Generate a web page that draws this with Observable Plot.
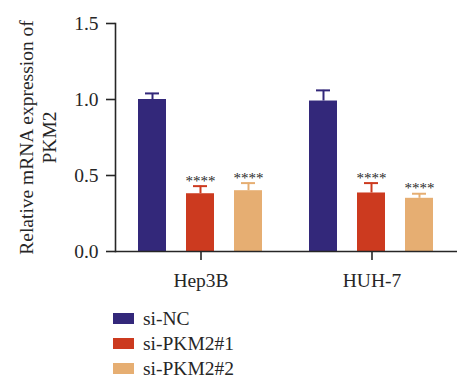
<!DOCTYPE html>
<html>
<head>
<meta charset="utf-8">
<script src="https://cdn.jsdelivr.net/npm/d3@7"></script>
<script src="https://cdn.jsdelivr.net/npm/@observablehq/plot@0.6"></script>
<style>
  body { margin: 0; background: #fff; font-family: "Liberation Serif", serif; }
  #chart svg { display: block; }
  .legend { margin-left: 113px; margin-top: 6px; font: 19.5px "Liberation Serif", serif; color: #262626; }
  .legend .row { display: flex; align-items: center; height: 25px; }
  .legend .sw { width: 21px; height: 11px; margin-right: 9px; }
</style>
</head>
<body>
<div id="chart"></div>
<script>
const cellLines = ["Hep3B", "HUH-7"];
const seriesNames = ["si-NC", "si-PKM2#1", "si-PKM2#2"];
const seriesColors = ["#33287a", "#cc3a1f", "#e6ae72"];
const meanHep3B = [1.00, 0.38, 0.40];
const errHep3B = [0.04, 0.05, 0.05];
const meanHUH7 = [0.99, 0.385, 0.35];
const errHUH7 = [0.07, 0.065, 0.03];
const starLabels = ["", "****", "****"];
const yTicks = [0, 0.5, 1.0, 1.5];
const yLabel = ["Relative mRNA expression of\nPKM2"];

const means = [meanHep3B, meanHUH7];
const errs = [errHep3B, errHUH7];
const data = [];
cellLines.forEach((c, ci) => seriesNames.forEach((s, si) => {
  data.push({cell: c, series: s, mean: means[ci][si], top: means[ci][si] + errs[ci][si], star: starLabels[si]});
}));

const font = '"Liberation Serif", serif';
const ink = "#262626";
const chart = Plot.plot({
  width: 474,
  height: 300,
  marginLeft: 114,
  marginRight: 17,
  marginTop: 23,
  marginBottom: 49,
  style: {fontFamily: font, fontSize: "19.5px", color: ink, background: "#fff"},
  fx: {domain: cellLines, padding: 0, label: null, axis: null},
  x: {domain: seriesNames, paddingInner: 0.408, paddingOuter: 0.454, axis: null},
  y: {domain: [0, 1.5], label: null, axis: null},
  color: {domain: seriesNames, range: seriesColors},
  marks: [
    Plot.axisY({ticks: yTicks, tickFormat: d3.format(".1f"), tickSize: 9, tickPadding: 8, stroke: ink, strokeWidth: 1.6,
      label: null, fontSize: 19.5}),
    Plot.text(yLabel, {frameAnchor: "left", facet: "super", rotate: -90, textAnchor: "middle", lineAnchor: "middle",
      lineHeight: 1.18, dx: -78, fontSize: 19.5, fill: ink}),
    Plot.axisFx({anchor: "bottom", tickSize: 9, tickPadding: 13, stroke: ink, strokeWidth: 1.6, label: null, fontSize: 19.5}),
    Plot.ruleX(data, {fx: "cell", x: "series", y1: "mean", y2: "top", stroke: "series", strokeWidth: 2}),
    Plot.tickY(data, {fx: "cell", x: "series", y: "top", stroke: "series", strokeWidth: 2, insetLeft: 7, insetRight: 7}),
    Plot.barY(data, {fx: "cell", x: "series", y: "mean", fill: "series"}),
    Plot.text(data, {fx: "cell", x: "series", y: "top", text: "star", lineAnchor: "bottom", dy: -0.5, fontSize: 15, fill: "#2a2a2a"}),
    Plot.ruleY([0], {stroke: ink, strokeWidth: 1.6}),
    Plot.frame({anchor: "left", facet: "super", stroke: ink, strokeWidth: 1.6})
  ]
});
document.getElementById("chart").appendChild(chart);

const legend = document.createElement("div");
legend.className = "legend";
seriesNames.forEach((s, i) => {
  const row = document.createElement("div");
  row.className = "row";
  const sw = document.createElement("div");
  sw.className = "sw";
  sw.style.background = seriesColors[i];
  const t = document.createElement("span");
  t.textContent = s;
  row.appendChild(sw); row.appendChild(t);
  legend.appendChild(row);
});
document.getElementById("chart").appendChild(legend);
</script>
</body>
</html>
